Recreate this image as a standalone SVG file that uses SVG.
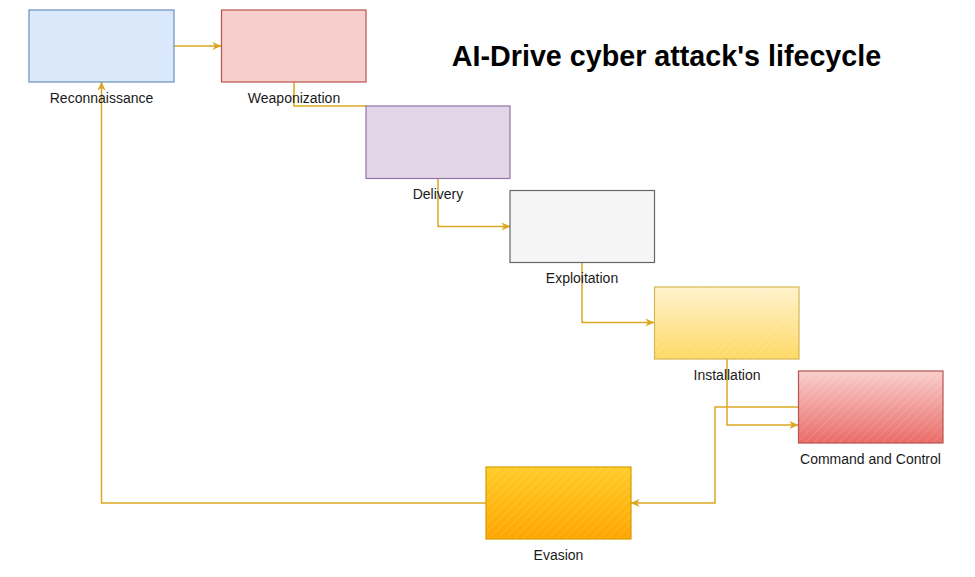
<svg xmlns="http://www.w3.org/2000/svg" width="975" height="577" viewBox="0 0 975 577">
  <defs>
    <style>
      .lbl { font-family: "Liberation Sans", Arial, Helvetica, sans-serif; font-size: 14px; fill: #1a1a1a; text-anchor: middle; }
      .title { font-family: "Liberation Sans", Arial, Helvetica, sans-serif; font-size: 28.7px; font-weight: bold; fill: #000; text-anchor: middle; }
      .box { stroke-width: 1.2; }
      .hatch { fill: url(#hatch); stroke: none; }
      .edge { fill: none; stroke: #dba622; stroke-width: 1.5; }
      .arrow { marker-end: url(#head); }
    </style>
    <pattern id="hatch" patternUnits="userSpaceOnUse" width="6" height="6" patternTransform="rotate(45)">
      <line x1="0" y1="0" x2="0" y2="6" stroke="#ffffff" stroke-opacity="0.22" stroke-width="1.2"/>
    </pattern>
    <linearGradient id="gInstall" x1="0" y1="0" x2="0" y2="1">
      <stop offset="0" stop-color="#fff2cc"/>
      <stop offset="1" stop-color="#ffd966"/>
    </linearGradient>
    <linearGradient id="gC2" x1="0" y1="0" x2="0" y2="1">
      <stop offset="0" stop-color="#f8cecc"/>
      <stop offset="1" stop-color="#ea6b66"/>
    </linearGradient>
    <linearGradient id="gEvasion" x1="0" y1="0" x2="0" y2="1">
      <stop offset="0" stop-color="#ffcd28"/>
      <stop offset="1" stop-color="#ffa500"/>
    </linearGradient>
    <marker id="head" viewBox="0 0 10 10" refX="9.5" refY="5" markerWidth="10" markerHeight="9" markerUnits="userSpaceOnUse" orient="auto">
      <path d="M0,0.5 L10,5 L0,9.5 L2.8,5 Z" fill="#dba622"/>
    </marker>
  </defs>

  <rect width="975" height="577" fill="#ffffff"/>

  <text class="title" x="666.5" y="66">AI-Drive cyber attack's lifecycle</text>

  <!-- connectors -->
  <g id="connectors">
    <path class="edge arrow" d="M174,46 L221,46"/>
    <path class="edge" d="M294,82 L294,106 L366,106"/>
    <path class="edge arrow" d="M438,179 L438,226.5 L510,226.5"/>
    <path class="edge arrow" d="M582,263 L582,322.5 L654,322.5"/>
    <path class="edge arrow" d="M727,359 L727,425 L798,425"/>
    <path class="edge arrow" d="M798,407 L715,407 L715,503 L631,503"/>
    <path class="edge arrow" d="M486,503 L101.5,503 L101.5,82"/>
  </g>

  <!-- nodes -->
  <g id="reconnaissance">
    <rect class="box" x="29" y="10" width="145" height="72" fill="#dae8fc" stroke="#6c8ebf"/>
    <rect class="hatch" x="29.6" y="10.6" width="143.8" height="70.8" opacity="0.6"/>
    <text class="lbl" x="101.5" y="103">Reconnaissance</text>
  </g>

  <g id="weaponization">
    <rect class="box" x="221.5" y="10" width="144.5" height="72" fill="#f8cecc" stroke="#b85450"/>
    <text class="lbl" x="294" y="103">Weaponization</text>
  </g>

  <g id="delivery">
    <rect class="box" x="366" y="106" width="144" height="72.5" fill="#e1d5e7" stroke="#9673a6"/>
    <text class="lbl" x="438" y="198.5">Delivery</text>
  </g>

  <g id="exploitation">
    <rect class="box" x="510" y="190.5" width="144.5" height="72" fill="#f5f5f5" stroke="#666666"/>
    <rect class="hatch" x="510.6" y="191.1" width="143.3" height="70.8"/>
    <text class="lbl" x="582" y="283">Exploitation</text>
  </g>

  <g id="installation">
    <rect class="box" x="654.5" y="287" width="144.5" height="72" fill="url(#gInstall)" stroke="#d6b656"/>
    <rect class="hatch" x="655.1" y="287.6" width="143.3" height="70.8"/>
    <text class="lbl" x="727" y="379.5">Installation</text>
  </g>

  <g id="command-and-control">
    <rect class="box" x="798.5" y="371" width="144.5" height="72" fill="url(#gC2)" stroke="#b85450"/>
    <rect class="hatch" x="799.1" y="371.6" width="143.3" height="70.8"/>
    <text class="lbl" x="870.5" y="463.5">Command and Control</text>
  </g>

  <g id="evasion">
    <rect class="box" x="486" y="467" width="145" height="72" fill="url(#gEvasion)" stroke="#d79b00"/>
    <rect class="hatch" x="486.6" y="467.6" width="143.8" height="70.8"/>
    <text class="lbl" x="558.5" y="559.5">Evasion</text>
  </g>
</svg>
